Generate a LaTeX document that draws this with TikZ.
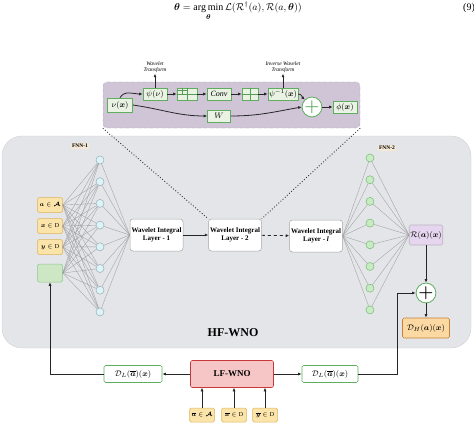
\documentclass[tikz,border=0pt]{standalone}
\usepackage{amsmath,amssymb,bm}
\usepackage{fontspec}
\setmainfont{Liberation Serif}
\usetikzlibrary{arrows.meta,calc,positioning}

\definecolor{wavepurple}{HTML}{CFC5D6}
\definecolor{hfgray}{HTML}{E3E5E8}
\definecolor{boxgreen}{HTML}{5FAE5F}
\definecolor{lightgreen}{HTML}{E9F2E3}
\definecolor{nrncyan}{HTML}{DDF3F6}
\definecolor{nrngreen}{HTML}{C8EBC3}
\definecolor{inyellow}{HTML}{FBE4AA}
\definecolor{inorange}{HTML}{DDB45A}
\definecolor{padgreen}{HTML}{CDE7C4}
\definecolor{rpurple}{HTML}{E5D5EE}
\definecolor{dhorange}{HTML}{FCD9A2}
\definecolor{lfred}{HTML}{F6C6C6}
\definecolor{tagbeige}{HTML}{F5E9D6}

\begin{document}
\begin{tikzpicture}[x=1pt, y=-1pt,
    font=\fontsize{7}{8}\selectfont,
    link/.style={draw=gray!75, line width=0.35pt},
    arr/.style={-{Latex[length=3.5pt,width=3pt]}, line width=0.8pt, black!85},
    thinarr/.style={arr, line width=0.55pt},
    dotline/.style={dotted, line width=0.9pt, black!80},
    panel/.style={draw=gray!65, dashed, fill=wavepurple, rounded corners=4pt},
    hfbox/.style={draw=gray!35, fill=hfgray, rounded corners=20pt},
    gbox/.style={draw=boxgreen, fill=lightgreen, line width=0.6pt, inner sep=1pt,
      minimum height=12, font=\fontsize{8}{9}\selectfont},
    gridln/.style={draw=boxgreen!90!black, line width=0.7pt},
    tlabel/.style={align=center, font=\itshape\fontsize{5.5}{6}\selectfont, inner sep=1pt},
    layer/.style={draw=gray!70, fill=white, rounded corners=3pt, align=center,
      font=\bfseries\fontsize{7}{8.5}\selectfont, minimum width=53, minimum height=32,
      inner sep=1pt, line width=0.5pt},
    nrnA/.style={circle, draw=cyan!25!gray!80, fill=nrncyan, minimum size=8, inner sep=0pt, line width=0.5pt},
    nrnB/.style={circle, draw=green!35!gray!80, fill=nrngreen, minimum size=8, inner sep=0pt, line width=0.5pt},
    inbox/.style={draw=inorange, fill=inyellow, rounded corners=1.5pt, minimum width=25,
      minimum height=15, inner sep=0pt, line width=0.5pt, font=\fontsize{6}{7}\selectfont},
    tag/.style={fill=tagbeige, font=\bfseries\fontsize{5.5}{6}\selectfont, inner sep=1.5pt},
    sumnode/.style={circle, draw=boxgreen, fill=white, line width=0.8pt, minimum size=16,
      inner sep=0pt, font=\boldmath\fontsize{16}{16}\selectfont},
    mathbox/.style={rounded corners=1.5pt, line width=0.6pt, inner sep=1pt,
      font=\fontsize{8.5}{9}\selectfont},
    lfbox/.style={draw=red!55!gray, fill=lfred, rounded corners=2pt, line width=0.6pt,
      minimum width=83, minimum height=27, font=\bfseries\fontsize{9}{10}\selectfont}
  ]
  \useasboundingbox (0,0) rectangle (474,436);

  \node[anchor=base] (eq) at (238,11) {\fontsize{10}{12}\selectfont
    $\displaystyle\boldsymbol{\theta}=\operatorname*{arg\,min}_{\boldsymbol{\theta}}
     \mathcal{L}(\mathcal{R}^{\dagger}(a),\mathcal{R}(a,\boldsymbol{\theta}))$};
  \node[anchor=base] (eqno) at (469,11) {\fontsize{10}{12}\selectfont(9)};

  \node[hfbox, minimum width=469, minimum height=212] (hf) at (236.5,242) {};
  \node[font=\bfseries\fontsize{12}{14}\selectfont] (hflabel) at (233,333) {HF-WNO};

  \node[panel, minimum width=257, minimum height=46] (wave) at (231.5,105) {};
  \node[gbox, minimum width=25, minimum height=14] (nu) at (120,105) {$\nu(\bm x)$};
  \node[gbox, minimum width=24] (psi) at (155,94) {$\psi(\nu)$};
  \node[gbox, minimum width=20] (g1) at (187,94) {};
  \node[gbox, minimum width=24] (conv) at (219,94) {$\mathit{Conv}$};
  \node[gbox, minimum width=16] (g2) at (250,94) {};
  \node[gbox, minimum width=28] (psiinv) at (283,94) {$\psi^{-1}(\bm x)$};
  \node[gbox, minimum width=23] (wt) at (219,116) {$W$};
  \node[sumnode, text=boxgreen] (wsum) at (312,107) {$+$};
  \node[gbox, minimum width=24] (phi) at (345,107) {$\phi(\bm x)$};
  \node[tlabel] (wtl) at (155,67) {Wavelet\\Transform};
  \node[tlabel] (iwtl) at (283,67) {Inverse Wavelet\\Transform};

  \draw[gridln] (g1.north) -- (g1.south) (g1.west) -- (g1.east)
    ($(g1.north west)!0.5!(g1.north)$) -- ($(g1.west)!0.5!(g1.center)$)
    ($(g1.north west)!0.5!(g1.west)$) -- ($(g1.north)!0.5!(g1.center)$);
  \draw[gridln] (g2.north) -- (g2.south) (g2.west) -- (g2.east);

  \draw[arr] (psi.north) -- (wtl.south);
  \draw[arr] (psiinv.north) -- (iwtl.south);
  \draw[arr] (nu.north) to[out=60,in=180] (psi.west);
  \draw[arr] (nu.east) to[out=-8,in=180] (wt.west);
  \draw[arr] (psi) -- (g1);
  \draw[arr] (g1) -- (conv);
  \draw[arr] (conv) -- (g2);
  \draw[arr] (g2) -- (psiinv);
  \draw[arr] (psiinv.east) to[out=0,in=135] (wsum.north west);
  \draw[arr] (wt.east) to[out=0,in=190] (wsum.west);
  \draw[arr] (wsum) -- (phi);

  \node[tag] (fnn1) at (80,146) {FNN-1};
  \node[tag] (fnn2) at (387,148) {FNN-2};

  \node[inbox] (ia) at (50,205) {$\bm a\in\bm{\mathcal{A}}$};
  \node[inbox] (ix) at (50,226) {$\bm x\in\mathrm{D}$};
  \node[inbox] (iy) at (50,247) {$\bm y\in\mathrm{D}$};
  \node[inbox, draw=boxgreen!70, fill=padgreen, minimum height=18] (ig) at (50,273) {};

  \node[layer] (l1) at (156.5,235) {Wavelet Integral\\Layer - 1};
  \node[layer] (l2) at (235,235) {Wavelet Integral\\Layer - 2};
  \node[layer] (ll) at (316,236) {Wavelet Integral\\Layer - \textit{l}};

  \node[mathbox, draw=rpurple!60!gray, fill=rpurple, minimum width=32, minimum height=20] (rout) at (426,235)
    {$\mathcal{R}(\bm a)(\bm x)$};
  \node[sumnode] (hsum) at (426,293) {$+$};
  \node[mathbox, draw=orange!55!gray, fill=dhorange, minimum width=47, minimum height=20] (dh) at (426,328)
    {$\mathcal{D}_H(\bm a)(\bm x)$};

  \foreach \i in {1,...,8} {
    \node[nrnA] (a\i) at (100,{138.3+21.7*\i}) {};
    \node[nrnB] (b\i) at (370,{136.3+21.7*\i}) {};
  }
  \foreach \s in {ia,ix,iy,ig}
    \foreach \i in {1,...,8}
      \draw[link] (\s.east) -- (a\i);
  \foreach \i in {1,...,8} {
    \draw[link] (a\i) -- (l1.west);
    \draw[link] (ll.east) -- (b\i);
    \draw[link] (b\i) -- (rout.west);
  }

  \draw[arr] (l1) -- (l2);
  \draw[arr, dashed] (l2) -- (ll);
  \draw[dotline] (wave.south west) -- (l2.north west);
  \draw[dotline] (wave.south east) -- (l2.north east);
  \draw[arr] (rout) -- (hsum);
  \draw[arr] (hsum) -- (dh);

  \node[lfbox] (lf) at (232,374) {LF-WNO};
  \node[mathbox, draw=boxgreen, fill=white, minimum width=58, minimum height=17] (dll) at (133,374)
    {$\mathcal{D}_L(\overline{\bm a})(\bm x)$};
  \node[mathbox, draw=boxgreen, fill=white, minimum width=56, minimum height=17] (dlr) at (330,374)
    {$\mathcal{D}_L(\overline{\bm a})(\bm x)$};
  \node[inbox, minimum height=14] (ba) at (202,415) {$\overline{\bm a}\in\bm{\mathcal{A}}$};
  \node[inbox, minimum height=14] (bx) at (234,415) {$\overline{\bm x}\in\mathrm{D}$};
  \node[inbox, minimum height=14] (by) at (265,415) {$\overline{\bm y}\in\mathrm{D}$};
  \coordinate (bend) at (397,293);

  \draw[arr] (lf) -- (dll);
  \draw[arr] (lf) -- (dlr);
  \draw[arr] (dll.west) -| (ig.south);
  \draw[arr] (dlr.east) -| (bend) -- (hsum.west);
  \draw[thinarr] (ba) -- (ba |- lf.south);
  \draw[thinarr] (bx) -- (bx |- lf.south);
  \draw[thinarr] (by) -- (by |- lf.south);
\end{tikzpicture}
\end{document}
